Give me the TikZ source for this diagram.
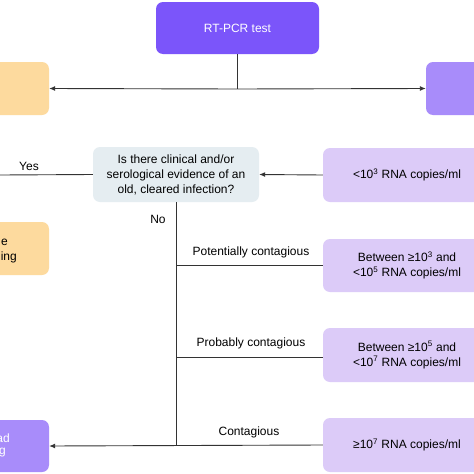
\documentclass[tikz,border=0pt]{standalone}
\usepackage{fontspec}
\setmainfont{Liberation Sans}
\usetikzlibrary{arrows.meta}
\definecolor{rtcol}{HTML}{7B55FA}
\definecolor{orcol}{HTML}{FDDA9E}
\definecolor{pucol}{HTML}{A88CFA}
\definecolor{qcol}{HTML}{E5EDF1}
\definecolor{lvcol}{HTML}{DCCBF8}
\definecolor{lncol}{HTML}{333333}
\tikzset{
  box/.style={rectangle, rounded corners=7pt, inner sep=0pt, align=center, font=\fontsize{12}{15}\selectfont},
  conn/.style={draw=lncol, line width=0.9pt},
  arr/.style={conn, -{Latex[length=6pt,width=5pt]}},
  lbl/.style={font=\fontsize{12}{15}\selectfont, inner sep=0pt}
}
\begin{document}
\begin{tikzpicture}[x=1pt,y=-1pt]
\useasboundingbox (0,0) rectangle (474,474);
\clip (0,0) rectangle (474,474);
\fill[white] (0,0) rectangle (474,474);
% boxes
\node[box, fill=rtcol, text=white, minimum width=163pt, minimum height=52pt] (rt) at (237.5,28) {RT-PCR test};
\node[box, fill=orcol, minimum width=100pt, minimum height=53pt] (lo) at (-1,88.5) {};
\node[box, fill=pucol, minimum width=100pt, minimum height=53pt] (rp) at (476,88.5) {};
\node[box, fill=qcol, minimum width=166pt, minimum height=55pt] (q) at (176,174.5) {Is there clinical and/or\\serological evidence of an\\old, cleared infection?};
\node[box, fill=lvcol, minimum width=168pt, minimum height=54pt] (b1) at (407,175) {<10\textsuperscript{3} RNA copies/ml};
\node[box, fill=lvcol, minimum width=168pt, minimum height=53pt] (b2) at (407,265.5) {Between ≥10\textsuperscript{3} and\\<10\textsuperscript{5} RNA copies/ml};
\node[box, fill=lvcol, minimum width=168pt, minimum height=54pt] (b3) at (407,355) {Between ≥10\textsuperscript{5} and\\<10\textsuperscript{7} RNA copies/ml};
\node[box, fill=lvcol, minimum width=168pt, minimum height=54pt] (b4) at (407,445) {≥10\textsuperscript{7} RNA copies/ml};
\node[box, fill=orcol, minimum width=100pt, minimum height=53pt] (lo2) at (-1,248.5) {};
\node[box, fill=pucol, minimum width=100pt, minimum height=52pt] (lp2) at (-1,446) {};
% clipped texts in left boxes
\node[lbl, anchor=east] (lo2a) at (8,242) {e};
\node[lbl, anchor=east] (lo2b) at (17,257) {ing};
\node[lbl, anchor=east, text=white] (lp2a) at (10,438) {ad};
\node[lbl, anchor=east, text=white] (lp2b) at (6,453) {g};
% connectors
\coordinate (j1) at (237.5,89);
\draw[conn] (rt.south) -- (j1);
\draw[arr] (j1) -- (lo.east);
\draw[arr] (j1) -- (rp.west);
\coordinate (yesend) at (0,175);
\draw[conn] (q.west) -- (yesend);
\node[lbl] (yes) at (29,166) {Yes};
\draw[arr] (b1.west) -- (q.east);
\coordinate (j4) at (176,446);
\coordinate (j2) at (176,265);
\coordinate (j3) at (176,357);
\draw[conn] (q.south) -- (j4);
\node[lbl] (no) at (158,219) {No};
\draw[conn] (j2) -- (j2 -| b2.west);
\node[lbl] (pc) at (251,252) {Potentially contagious};
\draw[conn] (j3) -- (j3 -| b3.west);
\node[lbl] (prc) at (251,343) {Probably contagious};
\draw[arr] (b4.west) -- (lp2.east);
\node[lbl] (c) at (249,432) {Contagious};
\end{tikzpicture}
\end{document}
